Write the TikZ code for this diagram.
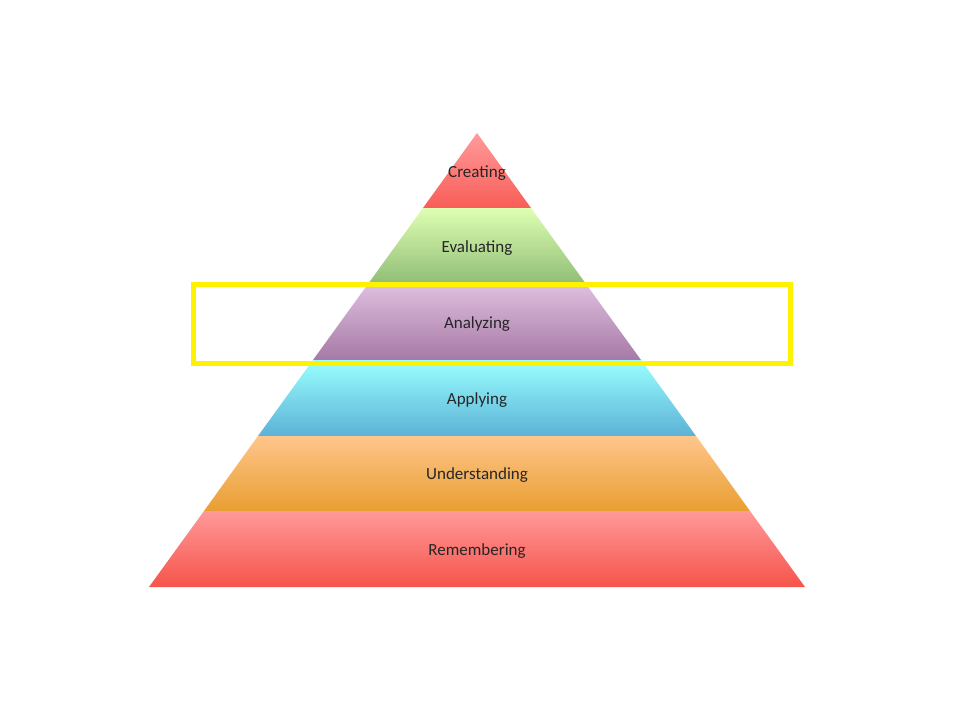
\documentclass[tikz,border=0pt]{standalone}
\usepackage{fontspec}
\setmainfont{Carlito}
\begin{document}
\begin{tikzpicture}[x=1pt,y=-1pt,
  lbl/.style={font=\fontsize{17}{20}\selectfont, text=black!85}]
\useasboundingbox (0,0) rectangle (960,720);
\fill[white] (0,0) rectangle (960,720);
\shade[top color=red!40!white!95!pink, bottom color=red!65!white!90!brown] (477,133) -- (531,208) -- (423,208) -- cycle;
\shade[top color=green!25!lime!30!white, bottom color=green!50!lime!35!gray!80] (423,208) -- (531,208) -- (586,284) -- (368,284) -- cycle;
\shade[top color=violet!25!white, bottom color=violet!50!gray!70] (368,284) -- (586,284) -- (641,360) -- (313,360) -- cycle;
\shade[top color=cyan!40!white, bottom color=cyan!70!blue!60!gray!80] (313,360) -- (641,360) -- (696,436) -- (258,436) -- cycle;
\shade[top color=orange!45!white, bottom color=orange!80!yellow!80!gray!90] (258,436) -- (696,436) -- (750,511) -- (204,511) -- cycle;
\shade[top color=red!40!white, bottom color=red!70!white!85!brown] (204,511) -- (750,511) -- (805,587) -- (149,587) -- cycle;
\node[lbl] (c) at (477,173) {Creating};
\node[lbl] (e) at (477,248) {Evaluating};
\node[lbl] (an) at (477,324) {Analyzing};
\node[lbl] (ap) at (477,400) {Applying};
\node[lbl] (u) at (477,475) {Understanding};
\node[lbl] (r) at (477,551) {Remembering};
\draw[yellow, line width=5] (193,284) rectangle (790,363);
\end{tikzpicture}
\end{document}
